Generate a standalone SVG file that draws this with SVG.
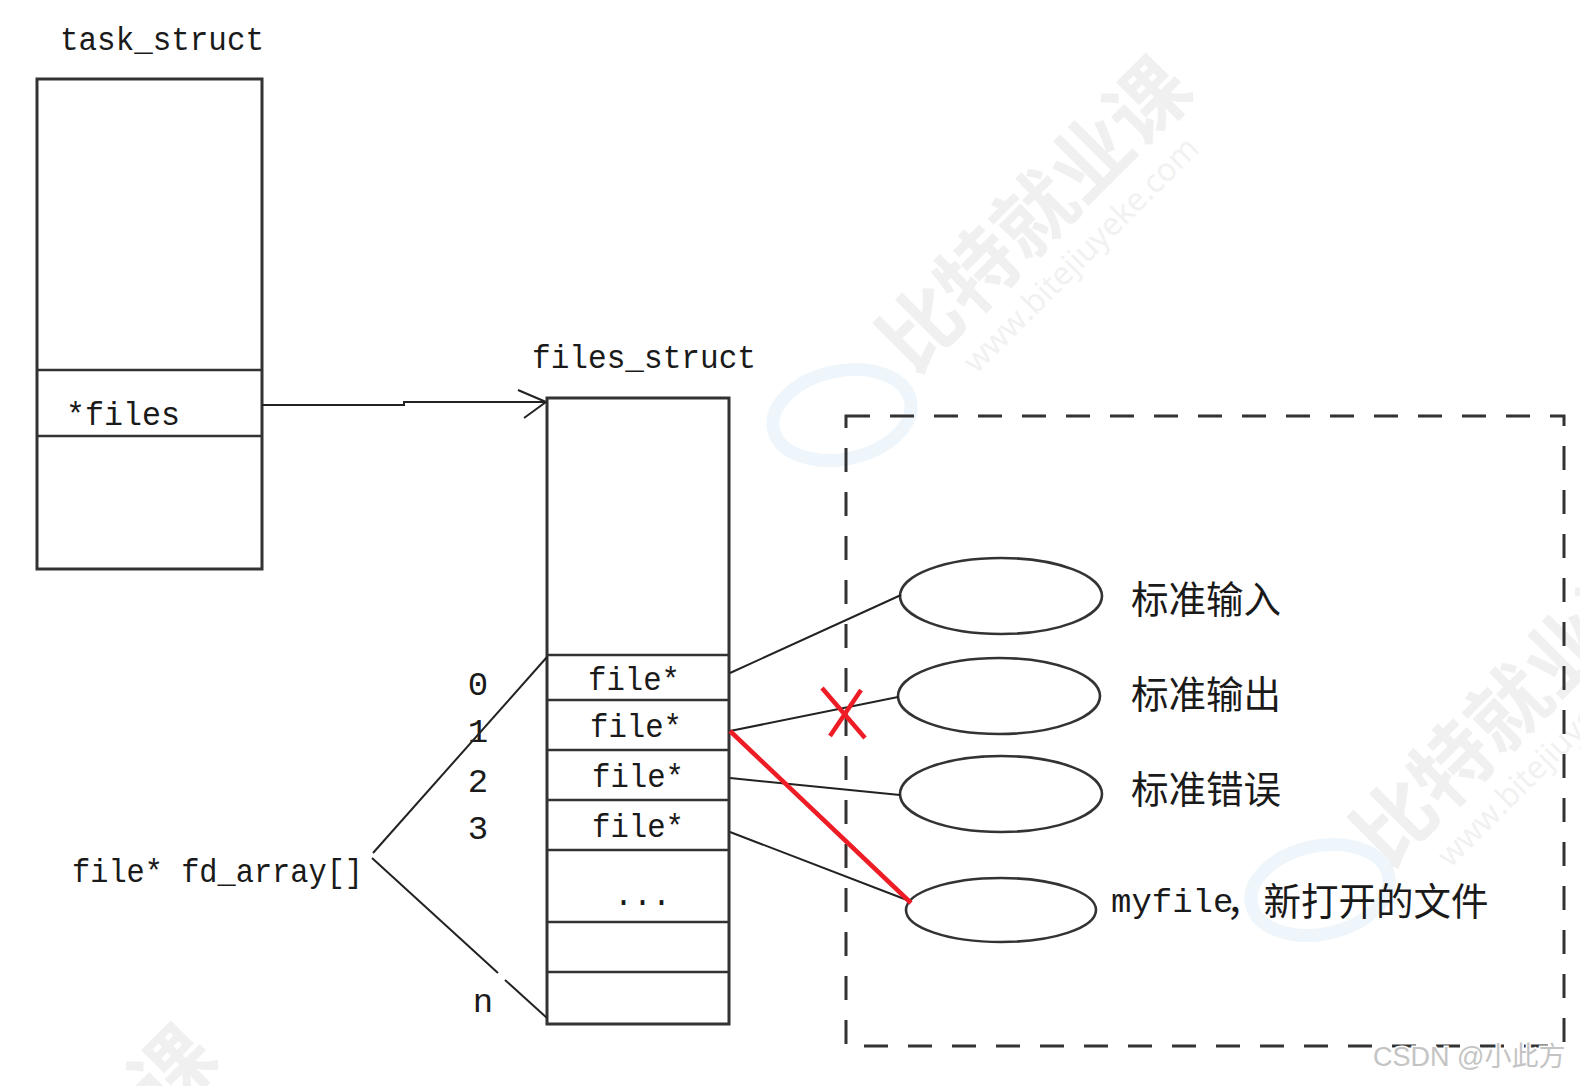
<svg xmlns="http://www.w3.org/2000/svg" width="1580" height="1086" viewBox="0 0 1580 1086">
<style>
.mono{font-family:"Liberation Mono","DejaVu Sans Mono",monospace;font-size:34px;fill:#1a1a1a}
.cjk{font-family:"Noto Sans CJK SC","Noto Sans",sans-serif;font-size:37.5px;fill:#1a1a1a}
.box{fill:none;stroke:#333;stroke-width:3}
.row{stroke:#333;stroke-width:2.6}
.conn{stroke:#222;stroke-width:2;fill:none}
.ell{fill:none;stroke:#333;stroke-width:2.6}
.red{stroke:#ee1c25;stroke-width:4.5;stroke-linecap:butt}
.wm{font-family:"Noto Sans CJK SC",sans-serif;font-weight:bold;font-size:80px;fill:#f0f0f0}
.wmurl{font-family:"Open Sans","Noto Sans",sans-serif;font-size:32px;fill:#f1f1f1}
.logo{fill:none;stroke:#eef6fb;stroke-width:13}
</style>
<rect width="1580" height="1086" fill="#ffffff"/>

<g id="watermarks">
  <ellipse class="logo" cx="842" cy="415" rx="70" ry="44" transform="rotate(-12 842 415)"/>
  <ellipse class="logo" cx="1320" cy="890" rx="70" ry="44" transform="rotate(-12 1320 890)"/>
  <g transform="translate(1035 215) rotate(-45)"><text class="wm" x="0" y="28" text-anchor="middle">比特就业课</text></g>
  <g transform="translate(1080 254) rotate(-45)"><text class="wmurl" x="0" y="12" text-anchor="middle">www.bitejiuyeke.com</text></g>
  <g transform="translate(1509 709) rotate(-45)"><text class="wm" x="0" y="28" text-anchor="middle">比特就业课</text></g>
  <g transform="translate(1554 748) rotate(-45)"><text class="wmurl" x="0" y="12" text-anchor="middle">www.bitejiuyeke.com</text></g>
  <g transform="translate(60 1183) rotate(-45)"><text class="wm" x="0" y="28" text-anchor="middle">比特就业课</text></g>
</g>

<g id="task_struct">
  <text class="mono" x="60" y="50" textLength="204" lengthAdjust="spacingAndGlyphs">task_struct</text>
  <rect class="box" x="37" y="79" width="225" height="490"/>
  <line class="row" x1="37" y1="370" x2="262" y2="370"/>
  <line class="row" x1="37" y1="436" x2="262" y2="436"/>
  <text class="mono" x="66" y="425" textLength="114" lengthAdjust="spacingAndGlyphs">*files</text>
</g>

<g id="files_struct">
  <text class="mono" x="532" y="368" textLength="224" lengthAdjust="spacingAndGlyphs">files_struct</text>
  <rect class="box" x="547" y="398" width="182" height="626"/>
  <line class="row" x1="547" y1="655" x2="729" y2="655"/>
  <line class="row" x1="547" y1="700" x2="729" y2="700"/>
  <line class="row" x1="547" y1="750" x2="729" y2="750"/>
  <line class="row" x1="547" y1="800" x2="729" y2="800"/>
  <line class="row" x1="547" y1="850" x2="729" y2="850"/>
  <line class="row" x1="547" y1="922" x2="729" y2="922"/>
  <line class="row" x1="547" y1="972" x2="729" y2="972"/>
  <text class="mono" x="588" y="690" textLength="92" lengthAdjust="spacingAndGlyphs">file*</text>
  <text class="mono" x="590" y="737" textLength="92" lengthAdjust="spacingAndGlyphs">file*</text>
  <text class="mono" x="592" y="787" textLength="92" lengthAdjust="spacingAndGlyphs">file*</text>
  <text class="mono" x="592" y="837" textLength="92" lengthAdjust="spacingAndGlyphs">file*</text>
  <text class="mono" x="614" y="905" textLength="57" lengthAdjust="spacingAndGlyphs">...</text>
</g>

<g id="indices">
  <text class="mono" x="478" y="695" text-anchor="middle">0</text>
  <text class="mono" x="478" y="742" text-anchor="middle">1</text>
  <text class="mono" x="478" y="792" text-anchor="middle">2</text>
  <text class="mono" x="478" y="839" text-anchor="middle">3</text>
  <text class="mono" x="483" y="1012" text-anchor="middle">n</text>
</g>

<g id="fd_array_label">
  <text class="mono" x="72" y="882" textLength="291" lengthAdjust="spacingAndGlyphs">file* fd_array[]</text>
</g>

<g id="open_files">
  <rect x="846" y="416" width="718" height="630" fill="none" stroke="#333" stroke-width="3" stroke-dasharray="24 20"/>
  <g id="stdin">
    <ellipse class="ell" cx="1001" cy="596" rx="101" ry="38"/>
    <text class="cjk" x="1131" y="613">标准输入</text>
  </g>
  <g id="stdout">
    <ellipse class="ell" cx="999" cy="696" rx="101" ry="38"/>
    <text class="cjk" x="1131" y="708">标准输出</text>
  </g>
  <g id="stderr">
    <ellipse class="ell" cx="1001" cy="794" rx="101" ry="38"/>
    <text class="cjk" x="1131" y="803">标准错误</text>
  </g>
  <g id="myfile">
    <ellipse class="ell" cx="1001" cy="910" rx="95" ry="32"/>
    <text class="mono" x="1111" y="912" font-size="29.5">myfile</text>
    <text class="cjk" x="1226" y="915">，新打开的文件</text>
  </g>
</g>

<g id="connectors">
  <polyline class="conn" stroke-width="2.6" points="262,405 404,405 404,402 546,402"/>
  <line class="conn" stroke-width="1.8" x1="518" y1="390" x2="546" y2="402"/>
  <line class="conn" stroke-width="1.8" x1="524" y1="418" x2="546" y2="402"/>
  <line class="conn" stroke-width="1.6" x1="373" y1="853" x2="547" y2="657"/>
  <line class="conn" stroke-width="1.6" x1="372" y1="858" x2="498" y2="973"/>
  <line class="conn" stroke-width="1.6" x1="505" y1="980" x2="547" y2="1018"/>
  <line class="conn" x1="730" y1="673" x2="901" y2="595"/>
  <line class="conn" x1="730" y1="731" x2="898" y2="697"/>
  <line class="conn" x1="730" y1="778" x2="900" y2="795"/>
  <line class="conn" x1="730" y1="832" x2="907" y2="900"/>
  <line class="red" x1="730" y1="731" x2="911" y2="903"/>
  <line class="red" stroke-width="4" x1="822" y1="688" x2="865" y2="738"/>
  <line class="red" stroke-width="4" x1="861" y1="690" x2="830" y2="736"/>
</g>

<text x="1373" y="1066" font-family="Liberation Sans,Noto Sans CJK SC,sans-serif" font-size="27" fill="#c4c4c4" stroke="#ffffff" stroke-width="3" paint-order="stroke">CSDN @小此方</text>
</svg>
